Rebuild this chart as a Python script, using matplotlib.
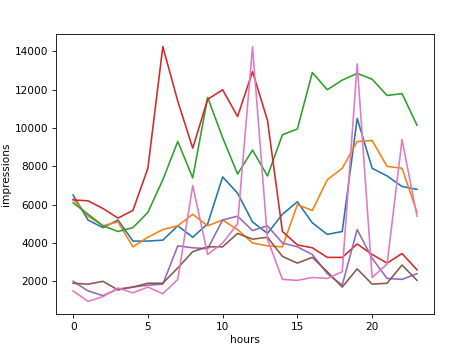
import numpy as np
import matplotlib
matplotlib.use("Agg")
import matplotlib.pyplot as plt

hours = list(range(24))

s_blue = [6500, 5200, 4800, 5200, 4100, 4100, 4150, 4900, 4300, 5000, 7450, 6600,
          5100, 4500, 5500, 6150, 5050, 4450, 4600, 10500, 7900, 7500, 6950, 6800]
s_orange = [6300, 5400, 4900, 5100, 3800, 4300, 4700, 4900, 5500, 4900, 5200, 4700,
            4000, 3850, 3800, 6000, 5700, 7300, 7900, 9300, 9350, 8000, 7900, 5600]
s_green = [6100, 5500, 4900, 4600, 4800, 5600, 7300, 9300, 7400, 11600, 9500, 7600,
           8850, 7500, 9650, 9950, 12900, 12000, 12500, 12850, 12550, 11700, 11800, 10150]
s_red = [6250, 6200, 5800, 5300, 5700, 7900, 14250, 11400, 8950, 11500, 12000, 10600,
         12950, 10400, 4600, 3900, 3750, 3250, 3250, 3950, 3400, 2950, 3450, 2600]
s_purple = [2000, 1500, 1250, 1600, 1700, 1800, 1850, 3850, 3750, 3700, 5200, 5400,
            4650, 4900, 4000, 3800, 3400, 2400, 1800, 4700, 3200, 2150, 2100, 2400]
s_brown = [1900, 1850, 2000, 1550, 1700, 1900, 1900, 2700, 3550, 3800, 3800, 4500,
           4200, 4300, 3300, 2950, 3250, 2500, 1700, 2650, 1850, 1900, 2850, 2050]
s_pink = [1500, 950, 1200, 1650, 1400, 1700, 1350, 2100, 7000, 3400, 4000, 5000,
          14250, 4200, 2100, 2050, 2200, 2150, 2500, 13350, 2200, 2900, 9400, 5400]

series = [s_blue, s_orange, s_green, s_red, s_purple, s_brown, s_pink]

fig = plt.figure(figsize=(4.74, 3.53), dpi=100)
ax = fig.add_subplot(111)
fig.subplots_adjust(left=0.118, right=0.916, top=0.904, bottom=0.110)

for s in series:
    ax.plot(hours, s, linewidth=1.15)

ax.set_xlabel("hours", fontsize=7.6, labelpad=2.5)
ax.set_ylabel("impressions", fontsize=7.6, labelpad=2.5)
ax.tick_params(labelsize=7.6, width=0.6, length=2.7, pad=2.6)
for sp in ax.spines.values():
    sp.set_linewidth(0.6)

fig.savefig("out.png", dpi=100)
